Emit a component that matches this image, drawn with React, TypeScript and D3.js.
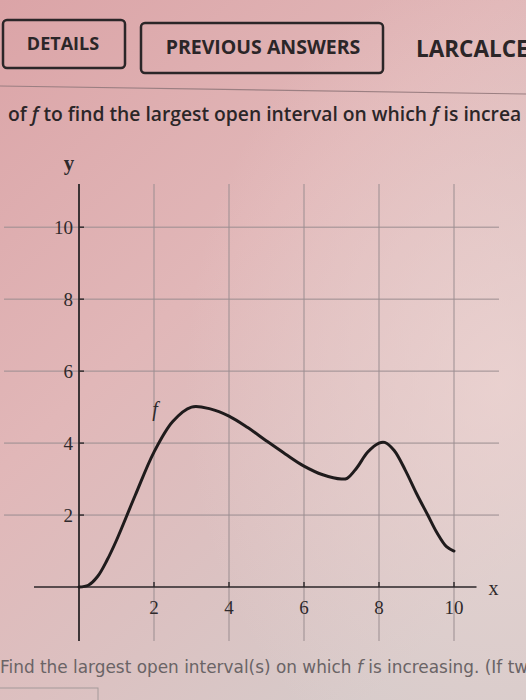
import React from "react";
import * as d3 from "d3";

// Graph of f
const xs = [0, 0.25, 0.5, 0.75, 1, 1.5, 2, 2.5, 3, 3.5, 4, 4.5, 5, 5.5, 6, 6.5, 7, 7.15, 7.4, 7.7, 8, 8.15, 8.4, 8.7, 9, 9.3, 9.55, 9.8, 10];
const ys = [0, 0.05, 0.3, 0.75, 1.3, 2.55, 3.75, 4.6, 5.0, 4.95, 4.75, 4.43, 4.06, 3.7, 3.36, 3.12, 3.0, 3.02, 3.3, 3.75, 4.0, 4.02, 3.8, 3.25, 2.6, 2.0, 1.5, 1.12, 1.0];
const xTicks = [2, 4, 6, 8, 10];
const yTicks = [2, 4, 6, 8, 10];

const W = 526;
const H = 700;

export default function App() {
  const x = d3.scaleLinear().domain([-2, 11.2]).range([4, 499]);
  const y = d3.scaleLinear().domain([-1.5, 11.2]).range([641, 184]);
  const pts: [number, number][] = xs.map((v, i) => [v, ys[i]]);
  const line = d3
    .line<[number, number]>()
    .x((d) => x(d[0]))
    .y((d) => y(d[1]))
    .curve(d3.curveCatmullRom.alpha(0.5));

  const serif = "'Liberation Serif', 'DejaVu Serif', serif";
  const sans = "'Open Sans', 'Noto Sans', sans-serif";
  const grid = "#9a8d90";
  const ink = "#2b2628";
  const label = "#2f2a2c";

  return (
    <svg width={W} height={H} style={{ position: "absolute", left: 0, top: 0 }}>
      <defs>
        <linearGradient id="bg" x1="0" y1="0" x2="0.7" y2="1">
          <stop offset="0" stopColor="#dba4a7" />
          <stop offset="0.45" stopColor="#e1b7b8" />
          <stop offset="1" stopColor="#d6cbca" />
        </linearGradient>
        <radialGradient id="glow" cx="0.95" cy="0.55" r="0.6">
          <stop offset="0" stopColor="#f0d6d4" stopOpacity="0.7" />
          <stop offset="1" stopColor="#f0d6d4" stopOpacity="0" />
        </radialGradient>
      </defs>
      <rect width={W} height={H} fill="url(#bg)" />
      <rect width={W} height={H} fill="url(#glow)" />

      {/* header buttons */}
      <rect x={3} y={20} width={122} height={48} rx={4} fill="none" stroke={ink} strokeWidth={2.5} />
      <text x={63} y={50} textAnchor="middle" fontFamily={sans} fontWeight={700} fontSize={18} fill={ink}>
        DETAILS
      </text>
      <rect x={141} y={23} width={242} height={50} rx={4} fill="none" stroke={ink} strokeWidth={2.5} />
      <text x={263} y={54} textAnchor="middle" fontFamily={sans} fontWeight={700} fontSize={19.5} fill={ink}>
        PREVIOUS ANSWERS
      </text>
      <text x={416} y={57} fontFamily={sans} fontWeight={700} fontSize={22.5} fill={ink}>
        LARCALCE
      </text>
      <line x1={0} y1={86} x2={W} y2={94} stroke="#9b7f82" strokeWidth={1.2} />

      <text x={8} y={121} fontFamily={sans} fontWeight={600} fontSize={19.3} fill={ink}>
        of <tspan fontStyle="italic">f</tspan> to find the largest open interval on which{" "}
        <tspan fontStyle="italic">f</tspan> is increa
      </text>

      {/* grid */}
      {yTicks.map((t) => (
        <line key={"gy" + t} x1={x(-2)} x2={x(11.2)} y1={y(t)} y2={y(t)} stroke={grid} strokeWidth={1} />
      ))}
      {xTicks.map((t) => (
        <line key={"gx" + t} x1={x(t)} x2={x(t)} y1={y(11.2)} y2={y(-1.5)} stroke={grid} strokeWidth={1} />
      ))}

      {/* axes */}
      <line x1={x(-1.2)} x2={x(10.6)} y1={y(0)} y2={y(0)} stroke={ink} strokeWidth={1.6} />
      <line x1={x(0)} x2={x(0)} y1={y(11.2)} y2={y(-1.5)} stroke={ink} strokeWidth={1.8} />

      {xTicks.map((t) => (
        <g key={"tx" + t}>
          <line x1={x(t)} x2={x(t)} y1={y(0)} y2={y(0) - 5} stroke={ink} strokeWidth={1.4} />
          <text x={x(t)} y={y(0) + 27} textAnchor="middle" fontFamily={serif} fontSize={19} fill={label}>
            {t}
          </text>
        </g>
      ))}
      {yTicks.map((t) => (
        <g key={"ty" + t}>
          <line x1={x(0)} x2={x(0) + 5} y1={y(t)} y2={y(t)} stroke={ink} strokeWidth={1.4} />
          <text x={x(0) - 6} y={y(t) + 6.5} textAnchor="end" fontFamily={serif} fontSize={19} fill={label}>
            {t}
          </text>
        </g>
      ))}
      <text x={x(0) - 10} y={170} textAnchor="middle" fontFamily={serif} fontWeight={700} fontSize={21} fill={label}>
        y
      </text>
      <text x={x(11.05)} y={y(0) + 8} textAnchor="middle" fontFamily={serif} fontSize={20} fill={label}>
        x
      </text>

      {/* f */}
      <path d={line(pts) ?? ""} fill="none" stroke="#1f1b1c" strokeWidth={3} strokeLinecap="round" />
      <text x={x(1.95)} y={y(4.75)} fontFamily={serif} fontStyle="italic" fontSize={20} fill={label}>
        f
      </text>

      {/* question below */}
      <text x={0} y={673} fontFamily="'DejaVu Sans', sans-serif" fontSize={16.9} fill="#6a6466">
        Find the largest open interval(s) on which <tspan fontStyle="italic">f</tspan> is increasing. (If tw
      </text>
      <rect x={-2} y={688} width={100} height={20} fill="none" stroke="#a49a9a" strokeWidth={1} />
    </svg>
  );
}
